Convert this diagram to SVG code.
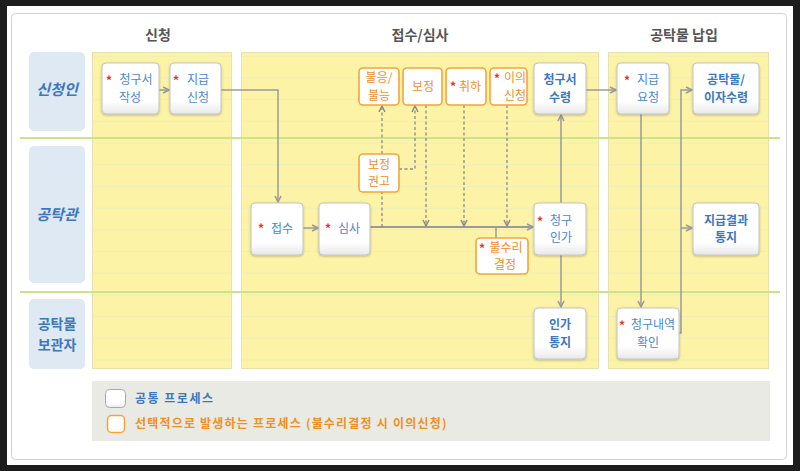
<svg xmlns="http://www.w3.org/2000/svg" width="800" height="471" viewBox="0 0 800 471">
<style>
text{font-family:"Noto Sans CJK KR","Noto Sans",sans-serif}
.hdr{font-size:14px;font-weight:bold;fill:#555;text-anchor:middle}
.lane{font-size:14px;font-weight:bold;fill:#3b78bd;text-anchor:middle}
.lanei{font-size:15px;font-style:italic}
.col{fill:url(#ruled);stroke:#e6e2b0;stroke-width:1}
.node{fill:url(#ng);stroke:#c4c4c4;stroke-width:1;filter:url(#sh)}
.opt{fill:#fff;stroke:#f4a43a;stroke-width:1.6}
.t{font-size:12px;fill:#4a88cf;text-anchor:middle}
.tb{font-size:12px;font-weight:bold;fill:#3a78bf;text-anchor:middle}
.to{font-size:12px;fill:#f0901e;text-anchor:middle}
.ast{font-size:12px;font-weight:bold;fill:#e8302a;text-anchor:middle}
.c{fill:none;stroke:#9a9a9a;stroke-width:1.5}
.d{fill:none;stroke:#8a8a8a;stroke-width:1.3;stroke-dasharray:3,2.5}
.g{stroke:#cde38a;stroke-width:2}
</style>
<defs>
<pattern id="ruled" x="0" y="55.7" width="20" height="21.7" patternUnits="userSpaceOnUse">
<rect width="20" height="21.7" fill="#fcf3a6"/>
<line x1="0" y1="0.5" x2="20" y2="0.5" stroke="#ecefb6" stroke-width="1"/>
</pattern>
<linearGradient id="ng" x1="0" y1="0" x2="0" y2="1">
<stop offset="0" stop-color="#ffffff"/>
<stop offset="0.75" stop-color="#ffffff"/>
<stop offset="1" stop-color="#e8e8e8"/>
</linearGradient>
<filter id="sh" x="-10%" y="-10%" width="130%" height="130%">
<feDropShadow dx="0" dy="1" stdDeviation="0.8" flood-color="#000" flood-opacity="0.25"/>
</filter>
<marker id="ar" viewBox="0 0 8 8" refX="7" refY="4" markerWidth="8" markerHeight="8" markerUnits="userSpaceOnUse" orient="auto">
<path d="M1,1 L7,4 L1,7" fill="none" stroke="#9a9a9a" stroke-width="1.6"/>
</marker>
<marker id="ad" viewBox="0 0 8 8" refX="7" refY="4" markerWidth="8" markerHeight="8" markerUnits="userSpaceOnUse" orient="auto">
<path d="M1,1 L7,4 L1,7" fill="none" stroke="#8a8a8a" stroke-width="1.5"/>
</marker>
</defs>
<rect width="800" height="471" fill="#1c1c1c"/>
<rect x="7" y="6" width="786" height="459" fill="#ffffff"/>
<rect x="11.5" y="13.5" width="775" height="446" rx="4" fill="#ffffff" stroke="#d2d2d2"/>

<g id="headers">
<text class="hdr" x="158" y="40">신청</text>
<text class="hdr" x="420" y="40">접수/심사</text>
<text class="hdr" x="684" y="40">공탁물 납입</text>
</g>

<g id="lanes">
<rect x="29" y="52" width="56" height="79" rx="5" fill="#dfe9f4"/>
<text class="lane lanei" x="57" y="95">신청인</text>
<rect x="29" y="146" width="56" height="137" rx="5" fill="#dfe9f4"/>
<text class="lane lanei" x="57" y="220">공탁관</text>
<rect x="29" y="299" width="56" height="70" rx="5" fill="#dfe9f4"/>
<text class="lane" x="57" y="329">공탁물</text>
<text class="lane" x="57" y="349.5">보관자</text>
</g>

<g id="columns">
<rect class="col" x="92.5" y="52.5" width="139" height="316"/>
<rect class="col" x="241.5" y="52.5" width="357" height="316"/>
<rect class="col" x="608.5" y="52.5" width="160" height="316"/>
</g>
<line class="g" x1="20" y1="138" x2="780" y2="138"/>
<line class="g" x1="20" y1="292" x2="780" y2="292"/>

<g id="connectors">
<line class="c" x1="159" y1="90" x2="169" y2="90" marker-end="url(#ar)"/>
<polyline class="c" points="221,90 278,90 278,202" marker-end="url(#ar)"/>
<line class="c" x1="303" y1="228" x2="318" y2="228" marker-end="url(#ar)"/>
<line class="c" x1="370" y1="227" x2="533" y2="227" marker-end="url(#ar)" style="stroke-width:2"/>
<line class="c" x1="496" y1="227" x2="496" y2="238"/>
<line class="d" x1="382" y1="227" x2="382" y2="192"/>
<line class="d" x1="382" y1="154" x2="382" y2="106" marker-end="url(#ad)"/>
<polyline class="d" points="399,169 415,169 415,106" marker-end="url(#ad)"/>
<line class="d" x1="426" y1="105" x2="426" y2="226" marker-end="url(#ad)"/>
<line class="d" x1="464" y1="105" x2="464" y2="226" marker-end="url(#ad)"/>
<line class="d" x1="507" y1="105" x2="507" y2="226" marker-end="url(#ad)"/>
<line class="c" x1="561" y1="203" x2="561" y2="115" marker-end="url(#ar)"/>
<line class="c" x1="561" y1="255" x2="561" y2="307" marker-end="url(#ar)"/>
<line class="c" x1="586" y1="90" x2="616" y2="90" marker-end="url(#ar)"/>
<line class="c" x1="641" y1="114" x2="641" y2="307" marker-end="url(#ar)"/>
<polyline class="c" points="679,333 681,333 681,90 692,90" marker-end="url(#ar)"/>
<line class="c" x1="681" y1="228" x2="692" y2="228" marker-end="url(#ar)"/>
</g>

<g id="n-write">
<rect class="node" x="102" y="63" width="57" height="51" rx="4"/>
<text class="ast" x="109" y="85">*</text>
<text class="t" x="136" y="84">청구서</text>
<text class="t" x="130" y="101.5">작성</text>
</g>
<g id="n-apply">
<rect class="node" x="170" y="63" width="51" height="51" rx="4"/>
<text class="ast" x="176" y="85">*</text>
<text class="t" x="198" y="84">지급</text>
<text class="t" x="198" y="101.5">신청</text>
</g>
<g id="n-receive">
<rect class="node" x="251" y="203" width="52" height="52" rx="4"/>
<text class="ast" x="261" y="233">*</text>
<text class="t" x="282" y="233">접수</text>
</g>
<g id="n-review">
<rect class="node" x="319" y="203" width="51" height="52" rx="4"/>
<text class="ast" x="328" y="233">*</text>
<text class="t" x="349" y="233">심사</text>
</g>
<g id="n-reject">
<rect class="opt" x="359" y="68" width="40" height="37" rx="4"/>
<text class="to" x="379" y="82">불응/</text>
<text class="to" x="379" y="99.5">불능</text>
</g>
<g id="n-correct">
<rect class="opt" x="403" y="68" width="39" height="37" rx="4"/>
<text class="to" x="423" y="91">보정</text>
</g>
<g id="n-withdraw">
<rect class="opt" x="446" y="68" width="40" height="37" rx="4"/>
<text class="ast" x="453" y="91">*</text>
<text class="to" x="470" y="91">취하</text>
</g>
<g id="n-objection">
<rect class="opt" x="490" y="68" width="37" height="37" rx="4"/>
<text class="ast" x="497" y="83">*</text>
<text class="to" x="515" y="82">이의</text>
<text class="to" x="515" y="99.5">신청</text>
</g>
<g id="n-recommend">
<rect class="opt" x="359" y="154" width="40" height="38" rx="4"/>
<text class="to" x="379" y="168.5">보정</text>
<text class="to" x="379" y="186">권고</text>
</g>
<g id="n-refuse">
<rect class="opt" x="476" y="238" width="52" height="36" rx="4"/>
<text class="ast" x="482" y="252.5">*</text>
<text class="to" x="506" y="251.5">불수리</text>
<text class="to" x="505" y="269">결정</text>
</g>
<g id="n-claimrecv">
<rect class="node" x="534" y="63" width="52" height="51" rx="4"/>
<text class="tb" x="560" y="84">청구서</text>
<text class="tb" x="560" y="101.5">수령</text>
</g>
<g id="n-approve">
<rect class="node" x="534" y="203" width="52" height="52" rx="4"/>
<text class="ast" x="540" y="225.5">*</text>
<text class="t" x="561" y="224.5">청구</text>
<text class="t" x="561" y="242">인가</text>
</g>
<g id="n-notify">
<rect class="node" x="534" y="308" width="52" height="51" rx="4"/>
<text class="tb" x="560" y="329">인가</text>
<text class="tb" x="560" y="346.5">통지</text>
</g>
<g id="n-payreq">
<rect class="node" x="617" y="63" width="52" height="51" rx="4"/>
<text class="ast" x="627" y="85">*</text>
<text class="t" x="648" y="84">지급</text>
<text class="t" x="648" y="101.5">요청</text>
</g>
<g id="n-payout">
<rect class="node" x="693" y="63" width="66" height="51" rx="4"/>
<text class="tb" x="726" y="84">공탁물/</text>
<text class="tb" x="726" y="101.5">이자수령</text>
</g>
<g id="n-result">
<rect class="node" x="693" y="203" width="66" height="52" rx="4"/>
<text class="tb" x="726" y="224.5">지급결과</text>
<text class="tb" x="726" y="242">통지</text>
</g>
<g id="n-check">
<rect class="node" x="617" y="308" width="62" height="51" rx="4"/>
<text class="ast" x="622" y="330">*</text>
<text class="t" x="653" y="329">청구내역</text>
<text class="t" x="648" y="346.5">확인</text>
</g>

<g id="legend">
<rect x="92" y="381" width="678" height="60" fill="#eaeae4"/>
<rect x="105.5" y="389.5" width="20" height="18" rx="4" fill="url(#ng)" stroke="#aaa"/>
<text x="135" y="403" style="font-size:12px;font-weight:bold;fill:#3a78bf;letter-spacing:1.5px">공통 프로세스</text>
<rect x="107.5" y="415.5" width="17" height="17" rx="4" fill="#fff" stroke="#f4a43a" stroke-width="1.5"/>
<text x="135" y="428" style="font-size:12px;font-weight:bold;fill:#f0901e;letter-spacing:1.2px">선택적으로 발생하는 프로세스 (불수리결정 시 이의신청)</text>
</g>
</svg>
